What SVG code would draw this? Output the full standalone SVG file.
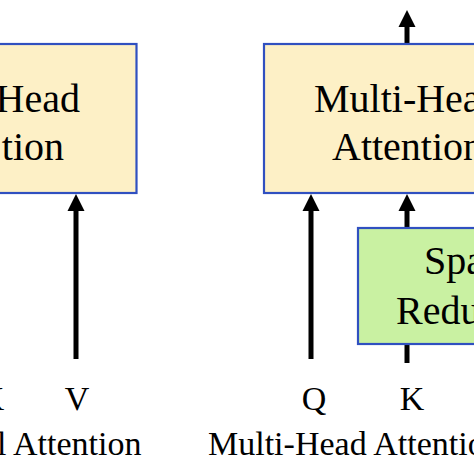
<svg xmlns="http://www.w3.org/2000/svg" width="474" height="474" viewBox="0 0 474 474">
<defs>
<path id="head" d="M0,0 L8.5,17 L-8.5,17 Z" fill="#000"/>
</defs>
<style>
.box{stroke:#3050c0;stroke-width:2.2}
.yel{fill:#fdf0c6}
.grn{fill:#c9f1a2}
.t{font-family:"Liberation Serif","Times New Roman",serif;fill:#000}
.big{font-size:40px}
.sm{font-size:34px}
.ln{stroke:#000;stroke-width:5;fill:none}
</style>
<rect width="474" height="474" fill="#fff"/>
<g id="connectors">
<line class="ln" x1="76" y1="359" x2="76" y2="208"/>
<use href="#head" x="76" y="194"/>
<line class="ln" x1="311" y1="359" x2="311" y2="208"/>
<use href="#head" x="311" y="194"/>
<line class="ln" x1="407" y1="228" x2="407" y2="208"/>
<use href="#head" x="407" y="194"/>
<line class="ln" x1="407" y1="44" x2="407" y2="24"/>
<use href="#head" x="407" y="10"/>
<line class="ln" x1="407" y1="344" x2="407" y2="363"/>
</g>
<g id="mha-left">
<rect class="box yel" x="-160" y="44" width="296.5" height="149"/>
<text class="t big" x="80" y="112" text-anchor="end">Head</text>
<text class="t big" x="64" y="160" text-anchor="end">tion</text>
</g>
<g id="mha-right">
<rect class="box yel" x="264" y="44" width="290" height="149"/>
<text class="t big" x="314" y="112">Multi-Head</text>
<text class="t big" x="332" y="160">Attention</text>
</g>
<g id="sr">
<rect class="box grn" x="358" y="228" width="250" height="116"/>
<text class="t big" x="424" y="274">Spatial</text>
<text class="t big" x="396" y="324">Reduction</text>
</g>
<g id="labels">
<text class="t sm" x="-8" y="410" text-anchor="middle">K</text>
<text class="t sm" x="77" y="410" text-anchor="middle">V</text>
<text class="t sm" x="314" y="410" text-anchor="middle">Q</text>
<text class="t sm" x="412" y="410" text-anchor="middle">K</text>
<text class="t sm" x="-3" y="455">l Attention</text>
<text class="t sm" x="208" y="455">Multi-Head Attention</text>
</g>
</svg>
